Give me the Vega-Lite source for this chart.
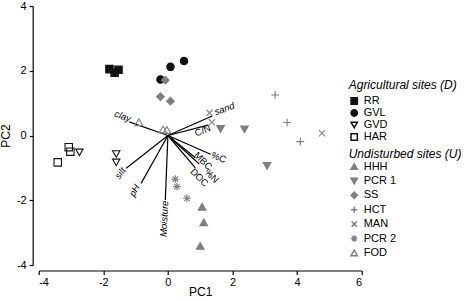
{
  "$schema": "https://vega.github.io/schema/vega-lite/v6.json",
  "autosize": {"type": "none"},
  "padding": {"left": 38.7, "top": 6, "right": 112.3, "bottom": 36},
  "width": 323,
  "height": 259,
  "config": {
    "view": {"stroke": null},
    "font": "Liberation Sans",
    "text": {"fill": "#000"},
    "axis": {"grid": false, "domainColor": "#000", "tickColor": "#000", "labelColor": "#000", "titleColor": "#000", "labelFont": "Liberation Sans", "titleFont": "Liberation Sans", "labelFontSize": 11, "titleFontSize": 12, "titleFontWeight": "normal", "domainWidth": 1.2, "tickWidth": 1.2},
    "legend": {"titleFont": "Liberation Sans", "labelFont": "Liberation Sans", "titleFontSize": 12, "titleFontStyle": "italic", "titleFontWeight": "normal", "titleColor": "#000", "labelColor": "#000", "labelFontSize": 11, "symbolSize": 40, "labelOffset": 4, "padding": 0, "titleLimit": 200}
  },
  "datasets": {
    "pts": [
      {"group": "D", "site": "RR", "x": -1.81, "y": 2.05},
      {"group": "D", "site": "RR", "x": -1.65, "y": 1.94},
      {"group": "D", "site": "RR", "x": -1.53, "y": 2.03},
      {"group": "D", "site": "GVL", "x": -0.23, "y": 1.73},
      {"group": "D", "site": "GVL", "x": 0.08, "y": 2.12},
      {"group": "D", "site": "GVL", "x": 0.50, "y": 2.30},
      {"group": "D", "site": "GVD", "x": -2.74, "y": -0.52},
      {"group": "D", "site": "GVD", "x": -1.60, "y": -0.57},
      {"group": "D", "site": "GVD", "x": -1.60, "y": -0.83},
      {"group": "D", "site": "HAR", "x": -3.07, "y": -0.36},
      {"group": "D", "site": "HAR", "x": -3.02, "y": -0.50},
      {"group": "D", "site": "HAR", "x": -3.41, "y": -0.83},
      {"group": "U", "site": "HHH", "x": 1.06, "y": -2.20},
      {"group": "U", "site": "HHH", "x": 1.11, "y": -2.68},
      {"group": "U", "site": "HHH", "x": 1.00, "y": -3.41},
      {"group": "U", "site": "PCR 1", "x": 1.63, "y": 0.20},
      {"group": "U", "site": "PCR 1", "x": 2.37, "y": 0.19},
      {"group": "U", "site": "PCR 1", "x": 3.07, "y": -0.94},
      {"group": "U", "site": "SS", "x": -0.08, "y": 1.71},
      {"group": "U", "site": "SS", "x": -0.23, "y": 1.20},
      {"group": "U", "site": "SS", "x": 0.08, "y": 1.06},
      {"group": "U", "site": "HCT", "x": 3.32, "y": 1.25},
      {"group": "U", "site": "HCT", "x": 3.69, "y": 0.40},
      {"group": "U", "site": "HCT", "x": 4.10, "y": -0.19},
      {"group": "U", "site": "MAN", "x": 1.29, "y": 0.70},
      {"group": "U", "site": "MAN", "x": 1.36, "y": 0.41},
      {"group": "U", "site": "MAN", "x": 4.77, "y": 0.07},
      {"group": "U", "site": "PCR 2", "x": 0.23, "y": -1.35},
      {"group": "U", "site": "PCR 2", "x": 0.28, "y": -1.58},
      {"group": "U", "site": "PCR 2", "x": 0.59, "y": -1.94},
      {"group": "U", "site": "FOD", "x": -0.90, "y": 0.41},
      {"group": "U", "site": "FOD", "x": -0.15, "y": 0.19},
      {"group": "U", "site": "FOD", "x": -0.03, "y": 0.17}
    ],
    "vecs": [
      {"name": "clay", "ox": 0, "oy": 0, "vx": -1.20, "vy": 0.42, "lx": -1.40, "ly": 0.59},
      {"name": "sand", "ox": 0, "oy": 0, "vx": 1.37, "vy": 0.60, "lx": 1.75, "ly": 0.82},
      {"name": "C/N", "ox": 0, "oy": 0, "vx": 1.24, "vy": 0.32, "lx": 1.08, "ly": 0.15},
      {"name": "%C", "ox": 0, "oy": 0, "vx": 1.32, "vy": -0.58, "lx": 1.57, "ly": -0.68},
      {"name": "MBC", "ox": 0, "oy": 0, "vx": 0.85, "vy": -0.69, "lx": 1.09, "ly": -0.79},
      {"name": "%N", "ox": 0, "oy": 0, "vx": 0.97, "vy": -0.88, "lx": 1.35, "ly": -1.25},
      {"name": "DOC", "ox": 0, "oy": 0, "vx": 0.85, "vy": -1.00, "lx": 0.97, "ly": -1.30},
      {"name": "silt", "ox": 0, "oy": 0, "vx": -1.29, "vy": -1.01, "lx": -1.47, "ly": -1.17},
      {"name": "pH", "ox": 0, "oy": 0, "vx": -0.83, "vy": -1.48, "lx": -1.03, "ly": -1.70},
      {"name": "Moisture", "ox": 0, "oy": 0, "vx": -0.08, "vy": -1.99, "lx": -0.11, "ly": -2.57}
    ]
  },
  "resolve": {
    "scale": {"shape": "independent", "fill": "independent", "stroke": "independent"}
  },
  "layer": [
    {
      "data": {"name": "vecs"},
      "mark": {"type": "rule", "color": "#000", "strokeWidth": 1.2},
      "encoding": {
        "x": {"field": "ox", "type": "quantitative", "scale": {"domain": [-4, 6], "nice": false, "zero": false},
          "axis": {"orient": "bottom", "title": "PC1", "offset": 5.5, "values": [-4, -2, 0, 2, 4, 6], "tickSize": 4, "labelPadding": 2, "titlePadding": -1, "labelExpr": "datum.value < 0 ? '-' + abs(datum.value) : '' + datum.value"}},
        "y": {"field": "oy", "type": "quantitative", "scale": {"domain": [-4, 4], "nice": false, "zero": false},
          "axis": {"orient": "left", "title": "PC2", "offset": 6, "values": [-4, -2, 0, 2, 4], "tickSize": 3.5, "labelPadding": 3, "titlePadding": 4, "labelExpr": "datum.value < 0 ? '-' + abs(datum.value) : '' + datum.value"}},
        "x2": {"field": "vx"},
        "y2": {"field": "vy"}
      }
    },
    {
      "data": {"name": "pts"},
      "transform": [{"filter": "datum.group === 'D'"}],
      "mark": {"type": "point", "opacity": 1, "strokeWidth": 1.1, "size": 55},
      "encoding": {
        "x": {"field": "x", "type": "quantitative"},
        "y": {"field": "y", "type": "quantitative"},
        "shape": {"field": "site", "type": "nominal", "scale": {"domain": ["RR", "GVL", "GVD", "HAR"], "range": ["square", "circle", "triangle-down", "square"]},
          "legend": {"title": "Agricultural sites (D)", "orient": "none", "legendX": 310, "legendY": 73.5, "rowPadding": -1.2, "titlePadding": 4}},
        "fill": {"field": "site", "type": "nominal", "scale": {"domain": ["RR", "GVL", "GVD", "HAR"], "range": ["#111", "#111", "transparent", "transparent"]},
          "legend": {"title": "Agricultural sites (D)", "orient": "none", "legendX": 310, "legendY": 73.5, "rowPadding": -1.2, "titlePadding": 4}},
        "stroke": {"field": "site", "type": "nominal", "scale": {"domain": ["RR", "GVL", "GVD", "HAR"], "range": ["#111", "#111", "#111", "#111"]},
          "legend": {"title": "Agricultural sites (D)", "orient": "none", "legendX": 310, "legendY": 73.5, "rowPadding": -1.2, "titlePadding": 4}}
      }
    },
    {
      "data": {"name": "pts"},
      "transform": [{"filter": "datum.group === 'U'"}],
      "mark": {"type": "point", "opacity": 1, "strokeWidth": 1.1, "size": 60},
      "encoding": {
        "x": {"field": "x", "type": "quantitative"},
        "y": {"field": "y", "type": "quantitative"},
        "shape": {"field": "site", "type": "nominal", "scale": {"domain": ["HHH", "PCR 1", "SS", "HCT", "MAN", "PCR 2", "FOD"], "range": ["triangle-up", "triangle-down", "diamond", "M-1,0H1M0,-1V1", "M-0.8,-0.8L0.8,0.8M-0.8,0.8L0.8,-0.8", "M-1,0H1M0,-1V1M-0.7,-0.7L0.7,0.7M-0.7,0.7L0.7,-0.7", "triangle-up"]},
          "legend": {"title": "Undisturbed sites (U)", "orient": "none", "legendX": 310, "legendY": 143, "rowPadding": 1.4, "titlePadding": 0}},
        "fill": {"field": "site", "type": "nominal", "scale": {"domain": ["HHH", "PCR 1", "SS", "HCT", "MAN", "PCR 2", "FOD"], "range": ["#7f7f7f", "#7f7f7f", "#7f7f7f", "transparent", "transparent", "transparent", "transparent"]},
          "legend": {"title": "Undisturbed sites (U)", "orient": "none", "legendX": 310, "legendY": 143, "rowPadding": 1.4, "titlePadding": 0}},
        "stroke": {"field": "site", "type": "nominal", "scale": {"domain": ["HHH", "PCR 1", "SS", "HCT", "MAN", "PCR 2", "FOD"], "range": ["#7f7f7f", "#7f7f7f", "#7f7f7f", "#7f7f7f", "#7f7f7f", "#7f7f7f", "#7f7f7f"]},
          "legend": {"title": "Undisturbed sites (U)", "orient": "none", "legendX": 310, "legendY": 143, "rowPadding": 1.4, "titlePadding": 0}}
      }
    },
    {
      "data": {"name": "vecs"},
      "transform": [{"filter": "datum.name === 'clay'"}],
      "mark": {"type": "text", "angle": 20, "fontSize": 9.5, "fontStyle": "italic", "fill": "#000"},
      "encoding": {"x": {"field": "lx", "type": "quantitative"}, "y": {"field": "ly", "type": "quantitative"}, "text": {"field": "name"}}
    },
    {
      "data": {"name": "vecs"},
      "transform": [{"filter": "datum.name === '%C'"}],
      "mark": {"type": "text", "angle": 22, "fontSize": 9.5, "fill": "#000"},
      "encoding": {"x": {"field": "lx", "type": "quantitative"}, "y": {"field": "ly", "type": "quantitative"}, "text": {"field": "name"}}
    },
    {
      "data": {"name": "vecs"},
      "transform": [{"filter": "datum.name === 'sand'"}],
      "mark": {"type": "text", "angle": -20, "fontSize": 9.5, "fontStyle": "italic", "fill": "#000"},
      "encoding": {"x": {"field": "lx", "type": "quantitative"}, "y": {"field": "ly", "type": "quantitative"}, "text": {"field": "name"}}
    },
    {
      "data": {"name": "vecs"},
      "transform": [{"filter": "datum.name === 'C/N'"}],
      "mark": {"type": "text", "angle": -22, "fontSize": 9.5, "fill": "#000"},
      "encoding": {"x": {"field": "lx", "type": "quantitative"}, "y": {"field": "ly", "type": "quantitative"}, "text": {"field": "name"}}
    },
    {
      "data": {"name": "vecs"},
      "transform": [{"filter": "indexof(['MBC', '%N', 'DOC'], datum.name) >= 0"}],
      "mark": {"type": "text", "angle": 45, "fontSize": 9.5, "fill": "#000"},
      "encoding": {"x": {"field": "lx", "type": "quantitative"}, "y": {"field": "ly", "type": "quantitative"}, "text": {"field": "name"}}
    },
    {
      "data": {"name": "vecs"},
      "transform": [{"filter": "datum.name === 'silt'"}],
      "mark": {"type": "text", "angle": -55, "fontSize": 9.5, "fontStyle": "italic", "fill": "#000"},
      "encoding": {"x": {"field": "lx", "type": "quantitative"}, "y": {"field": "ly", "type": "quantitative"}, "text": {"field": "name"}}
    },
    {
      "data": {"name": "vecs"},
      "transform": [{"filter": "datum.name === 'pH'"}],
      "mark": {"type": "text", "angle": -60, "fontSize": 9.5, "fontStyle": "italic", "fill": "#000"},
      "encoding": {"x": {"field": "lx", "type": "quantitative"}, "y": {"field": "ly", "type": "quantitative"}, "text": {"field": "name"}}
    },
    {
      "data": {"name": "vecs"},
      "transform": [{"filter": "datum.name === 'Moisture'"}],
      "mark": {"type": "text", "angle": -87, "fontSize": 9.5, "fontStyle": "italic", "fill": "#000"},
      "encoding": {"x": {"field": "lx", "type": "quantitative"}, "y": {"field": "ly", "type": "quantitative"}, "text": {"field": "name"}}
    }
  ]
}
